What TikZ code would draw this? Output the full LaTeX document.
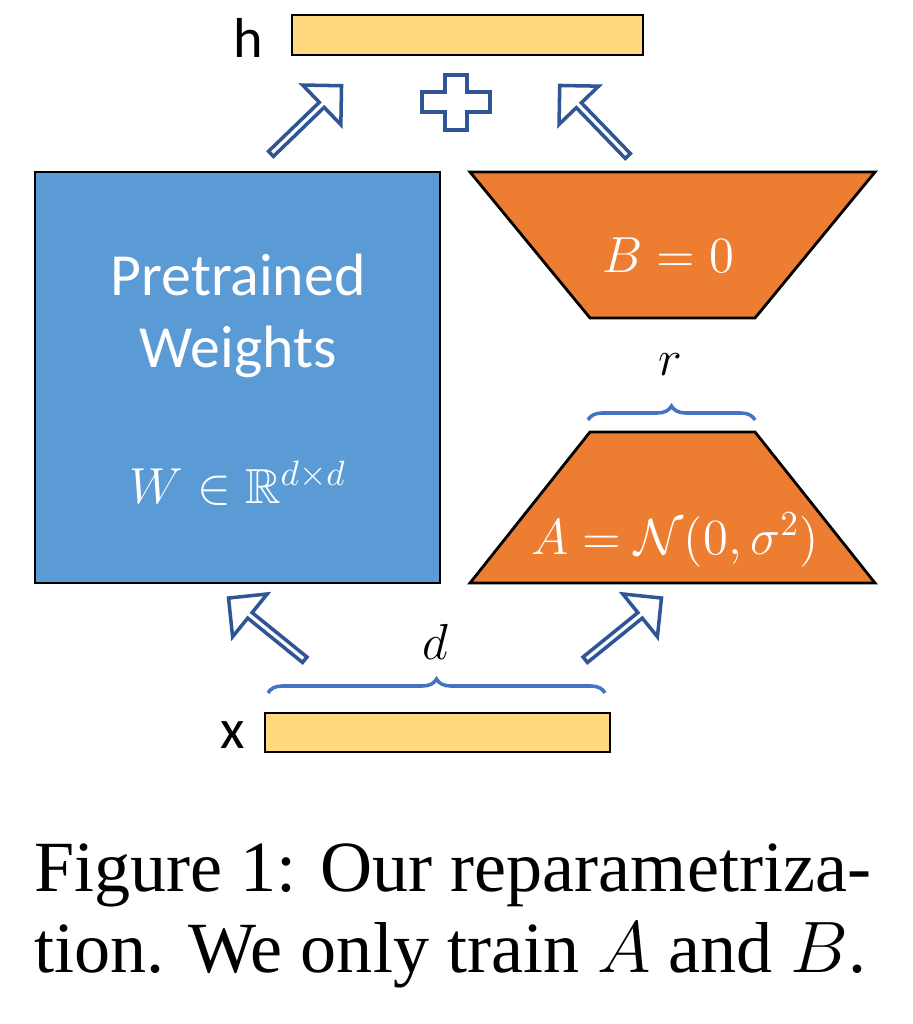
\documentclass[tikz,border=0pt]{standalone}
\usepackage{amsmath}
\usepackage{amssymb}
\usepackage{fontspec}
\setmainfont{Liberation Serif}
\newfontfamily\blocksans{Carlito}
\usetikzlibrary{shapes.arrows, decorations.pathreplacing, positioning}
\definecolor{barfill}{HTML}{FFD97F}
\definecolor{wblue}{HTML}{5B9BD5}
\definecolor{lorange}{HTML}{ED7D31}
\definecolor{bracec}{HTML}{4472C4}
\definecolor{arrowc}{HTML}{2F5597}
\tikzset{
  bar/.style={draw=black, fill=barfill, line width=0.8pt},
  hollow/.style={single arrow, draw=arrowc, fill=white, line width=1pt,
    minimum height=0.98cm, minimum width=0.55cm, single arrow head extend=0.12cm,
    single arrow head indent=0cm, inner sep=0pt},
  lbrace/.style={draw=bracec, line width=1pt, decorate,
    decoration={brace, amplitude=0.14cm}},
  intext/.style={text=white, font=\blocksans\fontsize{17}{21}\selectfont, align=center},
  inmath/.style={text=white, font=\fontsize{14}{17}\selectfont}
}
\begin{document}
\begin{tikzpicture}[x=0.01cm, y=-0.01cm]
        \useasboundingbox (0,0) rectangle (913,1024);
        % Output bar h
        \draw[bar] (292,15) rectangle (643,55);
        \node[font=\blocksans\fontsize{16}{20}\selectfont] (hlab) at (248,38) {h};

        % Plus sign
        \draw[arrowc, line width=1pt] (445,75) -- (467,75) -- (467,92) -- (490,92) -- (490,112)
          -- (467,112) -- (467,130) -- (445,130) -- (445,112) -- (422,112) -- (422,92)
          -- (445,92) -- cycle;

        % Top arrows
        \node[hollow, rotate=44] (aw) at (305,121) {};
        \node[hollow, rotate=134] (ab) at (595,122) {};

        % Pretrained weights
        \fill[wblue] (35,172) rectangle (440,583);
        \draw[black, line width=0.8pt] (35,172) rectangle (440,583);
        \node[intext] (pre) at (238,275) {Pretrained};
        \node[intext] (wts) at (238,352) {Weights};
        \node[inmath] (wmath) at (238,483) {$W \in \mathbb{R}^{d\times d}$};

        % Matrix B
        \fill[lorange] (470,172) -- (875,172) -- (755,318) -- (590,318) -- cycle;
        \draw[black, line width=0.8pt] (470,172) -- (875,172) -- (755,318) -- (590,318) -- cycle;
        \node[inmath] (bval) at (668,255) {$B = 0$};

        % Rank r
        \draw[lbrace] (588,420) -- (755,420);
        \node[font=\fontsize{14}{17}\selectfont] (rlab) at (670,365) {$r$};

        % Matrix A
        \fill[lorange] (590,432) -- (755,432) -- (875,583) -- (470,583) -- cycle;
        \draw[black, line width=0.8pt] (590,432) -- (755,432) -- (875,583) -- (470,583) -- cycle;
        \node[inmath] (aval) at (675,540) {$A = \mathcal{N}(0,\sigma^2)$};

        % Bottom arrows
        \node[hollow, rotate=141] (bw) at (268,630) {};
        \node[hollow, rotate=39] (ba) at (622,630) {};

        % Dimension d
        \draw[lbrace] (268,693) -- (605,693);
        \node[font=\fontsize{14}{17}\selectfont] (dlab) at (435,642) {$d$};

        % Input bar x
        \draw[bar] (265,713) rectangle (610,752);
        \node[font=\blocksans\fontsize{16}{20}\selectfont] (xlab) at (233,735) {x};

        % Caption
        \node[anchor=west, font=\fontsize{20.5}{24}\selectfont] (cap1) at (22,875) {Figure 1: Our reparametriza-};
        \node[anchor=west, font=\fontsize{20.5}{24}\selectfont] (cap2) at (22,955) {tion. We only train $A$ and $B$.};
    \end{tikzpicture}
\end{document}
